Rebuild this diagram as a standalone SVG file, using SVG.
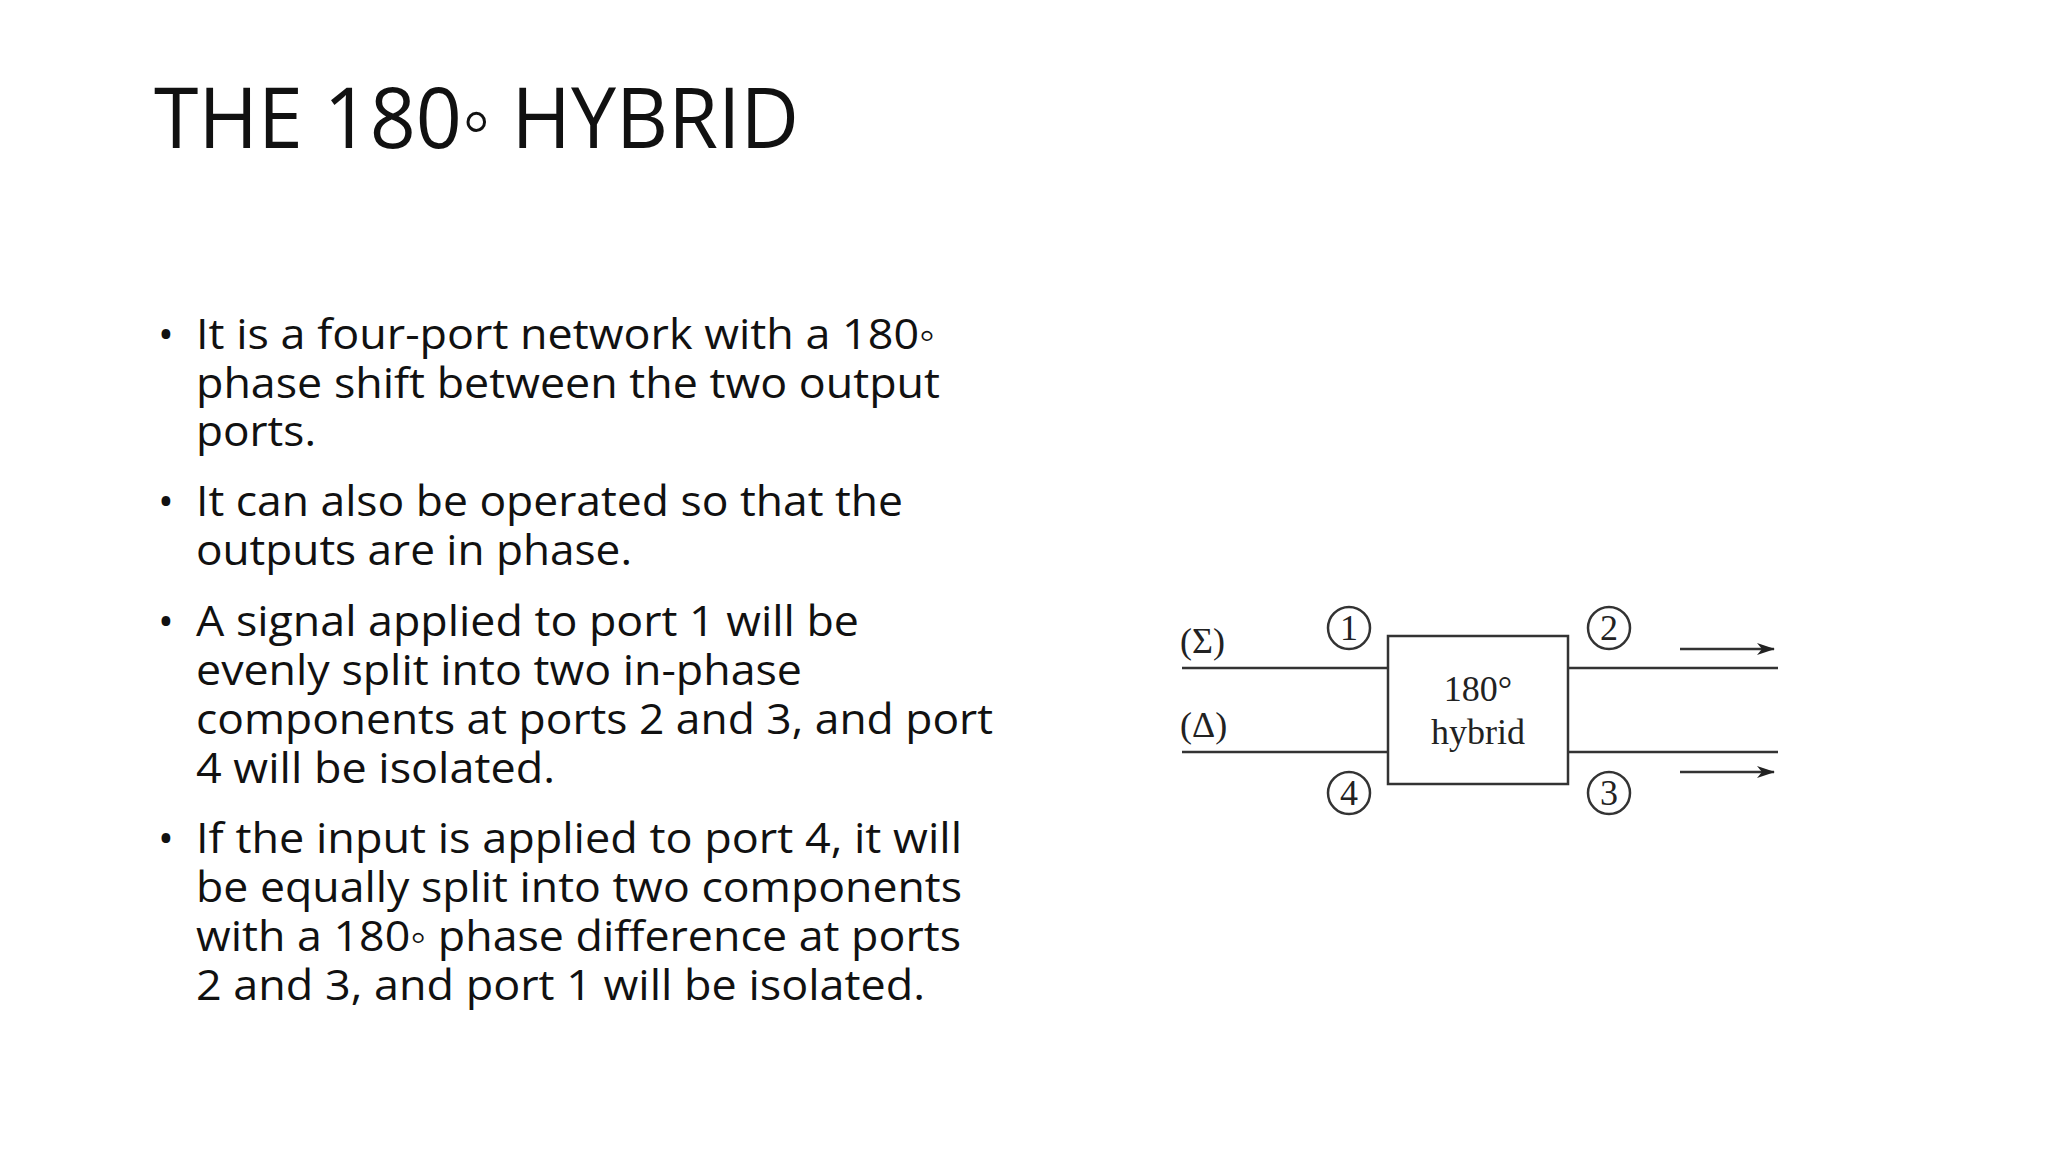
<svg xmlns="http://www.w3.org/2000/svg" width="2048" height="1152" viewBox="0 0 2048 1152">
<style>
.t{font-family:"Open Sans","Liberation Sans",sans-serif;fill:#111;font-size:42px}
.d{font-family:"Liberation Serif",serif;fill:#222;font-size:36px}
.l{stroke:#333;stroke-width:2.5;fill:none}
</style>
<defs><marker id="ah" markerWidth="18" markerHeight="12" refX="17" refY="6" orient="auto" markerUnits="userSpaceOnUse" viewBox="0 0 18 12"><path d="M0,0L18,6L0,12L5,6Z" fill="#222"/></marker></defs>
<rect width="2048" height="1152" fill="#fff"/>
<text x="154" y="148" font-family="Open Sans,Liberation Sans,sans-serif" font-size="84" fill="#111" textLength="645" lengthAdjust="spacingAndGlyphs">THE 180◦ HYBRID</text>
<g id="bullets" class="t">
<text x="158" y="349">•</text><text x="158" y="516">•</text><text x="158" y="636">•</text><text x="158" y="853">•</text>
<text x="196" y="349" textLength="739" lengthAdjust="spacingAndGlyphs">It is a four-port network with a 180◦</text>
<text x="196" y="398" textLength="744" lengthAdjust="spacingAndGlyphs">phase shift between the two output</text>
<text x="196" y="446" textLength="120" lengthAdjust="spacingAndGlyphs">ports.</text>
<text x="196" y="516" textLength="707" lengthAdjust="spacingAndGlyphs">It can also be operated so that the</text>
<text x="196" y="565" textLength="436" lengthAdjust="spacingAndGlyphs">outputs are in phase.</text>
<text x="196" y="636" textLength="663" lengthAdjust="spacingAndGlyphs">A signal applied to port 1 will be</text>
<text x="196" y="685" textLength="606" lengthAdjust="spacingAndGlyphs">evenly split into two in-phase</text>
<text x="196" y="734" textLength="797" lengthAdjust="spacingAndGlyphs">components at ports 2 and 3, and port</text>
<text x="196" y="783" textLength="359" lengthAdjust="spacingAndGlyphs">4 will be isolated.</text>
<text x="196" y="853" textLength="766" lengthAdjust="spacingAndGlyphs">If the input is applied to port 4, it will</text>
<text x="196" y="902" textLength="766" lengthAdjust="spacingAndGlyphs">be equally split into two components</text>
<text x="196" y="951" textLength="765" lengthAdjust="spacingAndGlyphs">with a 180◦ phase difference at ports</text>
<text x="196" y="1000" textLength="729" lengthAdjust="spacingAndGlyphs">2 and 3, and port 1 will be isolated.</text>
</g>
<g id="hybrid">
<rect x="1388" y="636" width="180" height="148" class="l"/>
<text x="1478" y="701" class="d" text-anchor="middle">180°</text>
<text x="1478" y="744" class="d" text-anchor="middle">hybrid</text>
</g>
<g id="labels" class="d">
<text x="1180" y="653">(Σ)</text>
<text x="1180" y="737">(Δ)</text>
</g>
<g id="ports" class="d" text-anchor="middle">
<circle cx="1349" cy="628" r="21" class="l" stroke-width="2"/><text x="1349" y="640">1</text>
<circle cx="1609" cy="628" r="21" class="l" stroke-width="2"/><text x="1609" y="640">2</text>
<circle cx="1349" cy="793" r="21" class="l" stroke-width="2"/><text x="1349" y="805">4</text>
<circle cx="1609" cy="793" r="21" class="l" stroke-width="2"/><text x="1609" y="805">3</text>
</g>
<g id="connectors">
<line x1="1182" y1="668" x2="1388" y2="668" class="l"/>
<line x1="1182" y1="752" x2="1388" y2="752" class="l"/>
<line x1="1568" y1="668" x2="1778" y2="668" class="l"/>
<line x1="1568" y1="752" x2="1778" y2="752" class="l"/>
<line x1="1680" y1="649" x2="1774" y2="649" class="l" marker-end="url(#ah)"/>
<line x1="1680" y1="772" x2="1774" y2="772" class="l" marker-end="url(#ah)"/>
</g>
</svg>
